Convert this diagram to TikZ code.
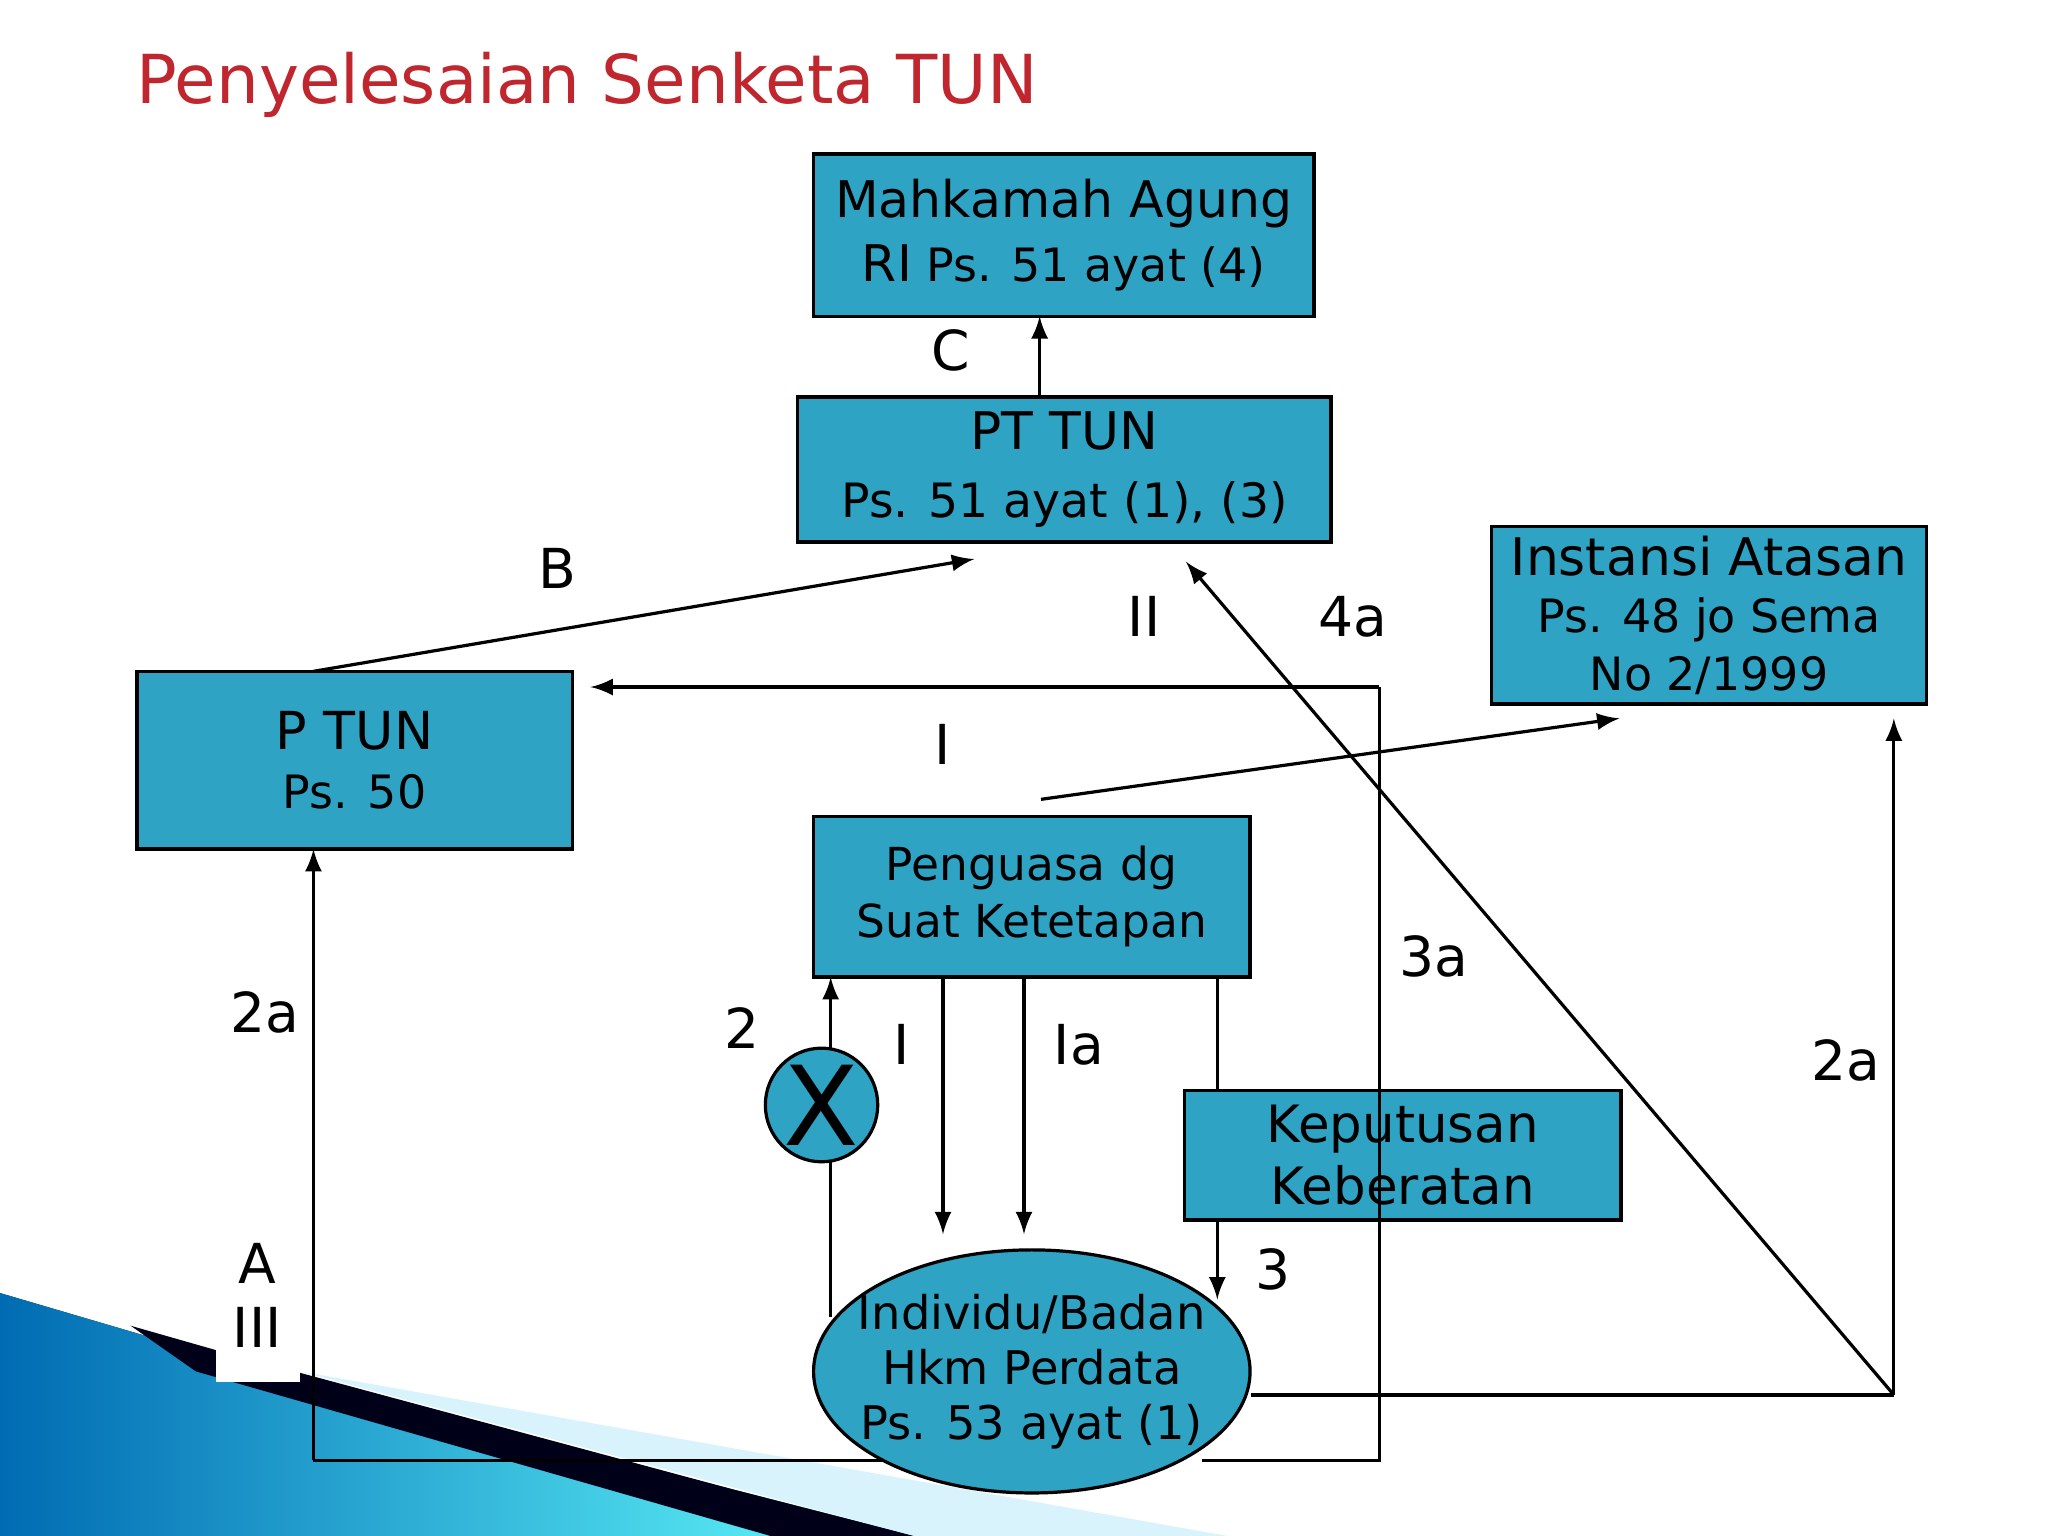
\documentclass[tikz,border=0pt]{standalone}
\usepackage{fontspec}
\setmainfont{DejaVu Sans}
\usetikzlibrary{shapes.geometric}
\definecolor{boxc}{HTML}{2EA3C3}
\definecolor{ttl}{HTML}{C0262D}
\begin{document}
\begin{tikzpicture}[x=0.01cm,y=-0.01cm,
  bx/.style={draw=black,fill=boxc,line width=0.7pt,align=center,inner sep=0pt},
  ln/.style={line width=0.7pt},
  ar/.style={line width=0.7pt,-latex},
  lb/.style={font=\fontsize{12}{14}\selectfont}]
\useasboundingbox (0,0) rectangle (1568,1176);
% decoration
\fill[left color=blue!40!cyan!70!black,right color=cyan!60!white] (0,990) -- (170,1040) -- (700,1176) -- (0,1176) -- cycle;
\fill[black!90!blue] (100,1015) -- (170,1035) -- (560,1140) -- (700,1176) -- (590,1176) -- (150,1050) -- cycle;
\fill[cyan!15!white] (230,1050) -- (940,1176) -- (700,1176) -- cycle;
% title
\node[anchor=west,text=ttl,font=\fontsize{14.7}{18}\selectfont] (title) at (92,65) {Penyelesaian Senketa TUN};
% boxes
\node[bx,minimum width=3.83cm,minimum height=1.24cm] (ma) at (814.5,180) {{\fontsize{11}{14}\selectfont Mahkamah Agung}\\[2pt]{\fontsize{11}{14}\selectfont RI} {\fontsize{10}{14}\selectfont Ps. 51 ayat (4)}};
\node[bx,minimum width=4.08cm,minimum height=1.11cm,font=\fontsize{10.3}{13}\selectfont] (pt) at (815,359.5) {{\fontsize{11.3}{14}\selectfont PT TUN}\\[2pt]Ps. 51 ayat (1), (3)};
\node[bx,minimum width=3.33cm,minimum height=1.36cm,font=\fontsize{10}{12.5}\selectfont] (ia) at (1308.5,471) {{\fontsize{11.3}{13}\selectfont Instansi Atasan}\\Ps. 48 jo Sema\\No 2/1999};
\node[bx,minimum width=3.33cm,minimum height=1.36cm,font=\fontsize{10}{13}\selectfont] (ptun) at (271.5,582) {{\fontsize{11.4}{14}\selectfont P TUN}\\Ps. 50};
\node[bx,minimum width=3.34cm,minimum height=1.23cm,font=\fontsize{9.9}{12.5}\selectfont] (pg) at (790,686.5) {Penguasa dg\\Suat Ketetapan};
\node[bx,minimum width=3.34cm,minimum height=0.99cm,font=\fontsize{11.2}{13.5}\selectfont] (kk) at (1074,884.5) {Keputusan\\Keberatan};
% connectors
\draw[ar] (796,304) -- (796,242);
\coordinate (b0) at (240,514); \coordinate (b1) at (746,428);
\draw[ar] (b0) -- (b1);
\coordinate (r1) at (1056,526); \coordinate (r2) at (1056,1118);
\coordinate (l1) at (240,1118); \coordinate (e1) at (920,1118);
\draw[ar] (r1) -- (452,526);
\draw[ln] (r1) -- (r2) -- (e1);
\draw[ln] (700,1118) -- (l1);
\draw[ar] (l1) -- (240,650);
\coordinate (i0) at (797,612); \coordinate (i1) at (1240,550);
\draw[ar] (i0) -- (i1);
\coordinate (c0) at (1450,1068);
\draw[ar] (c0) -- (908,430);
\draw[ln] (958,1068) -- (c0);
\draw[ar] (c0) -- (1450,550);
\draw[ar] (722,748) -- (722,945);
\draw[ar] (784,748) -- (784,945);
\draw[ln] (932,748) -- (932,835);
\draw[ar] (932,934) -- (932,995);
\draw[ar] (636,1008) -- (636,748);
\node[bx,ellipse,minimum width=3.34cm,minimum height=1.86cm] (ind) at (790,1050) {};
\node[align=center,font=\fontsize{10.1}{12}\selectfont] (indt) at (ind.center) {Individu/Badan\\Hkm Perdata\\Ps. 53 ayat (1)};
\node[draw=black,fill=boxc,ellipse,minimum width=0.86cm,minimum height=0.74cm,inner sep=0pt,line width=0.7pt,font=\fontsize{24}{24}\selectfont] (x) at (629,846) {X};
% labels
\node[lb] (lC) at (728,268) {C};
\node[lb] (lB) at (427,435) {B};
\node[lb] (lII) at (876,472) {II};
\node[lb] (l4a) at (1036,472) {4a};
\node[lb] (lI) at (722,570) {I};
\node[lb] (l3a) at (1098,732) {3a};
\node[lb] (l2a) at (203,775) {2a};
\node[lb] (l2) at (568,787) {2};
\node[lb] (lI2) at (690,800) {I};
\node[lb] (lIa) at (826,800) {Ia};
\node[lb] (l2b) at (1413,812) {2a};
\node[lb] (l3) at (975,972) {3};
\fill[white] (165,1000) rectangle (230,1058);
\node[lb,align=center] (lA) at (197,992) {A\\III};
\end{tikzpicture}
\end{document}
